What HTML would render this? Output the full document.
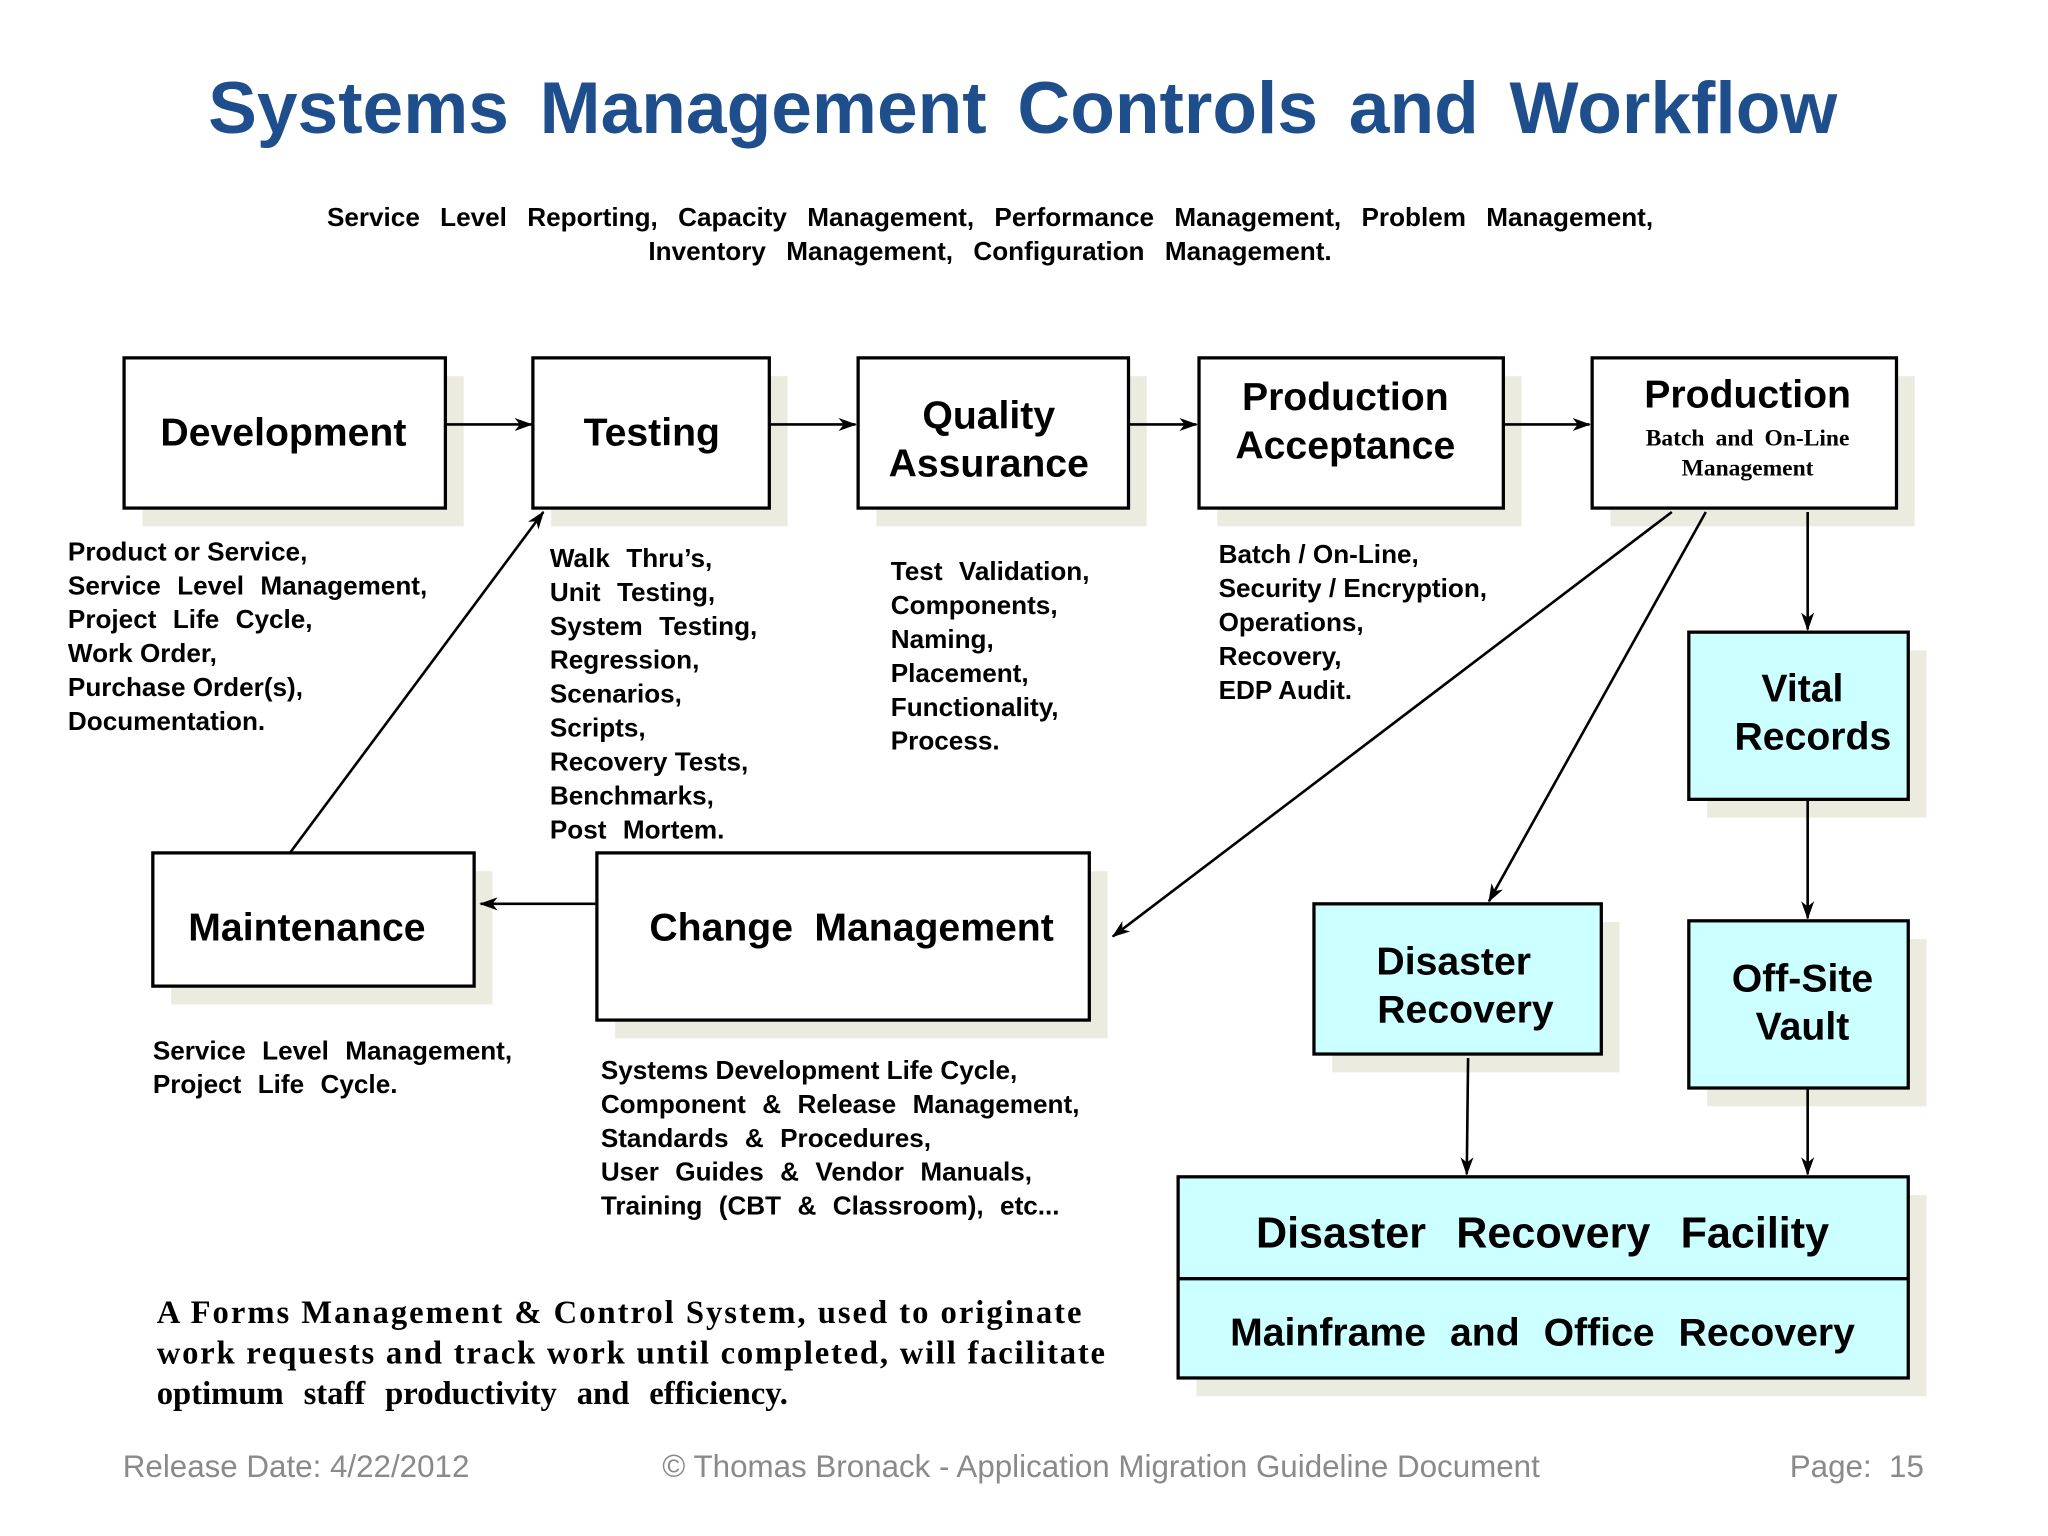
<!DOCTYPE html>
<html><head><meta charset="utf-8"><style>
html,body{margin:0;padding:0;background:#fff;}
svg{display:block;}
.b{font-family:"Liberation Sans",sans-serif;font-weight:bold;fill:#000;}
.s{font-family:"Liberation Serif",serif;font-weight:bold;fill:#000;}
</style></head><body>
<svg width="2048" height="1536" viewBox="0 0 1568 1176" xmlns="http://www.w3.org/2000/svg">
<defs><marker id="a" markerWidth="14" markerHeight="10" refX="13" refY="5" orient="auto" markerUnits="userSpaceOnUse"><path d="M0,0 L14,5 L0,10 L4,5 Z" fill="#000"/></marker></defs>
<rect width="1568" height="1176" fill="#fff"/>
<text x="783" y="102" text-anchor="middle" font-family="Liberation Sans,sans-serif" font-weight="bold" font-size="56" fill="#1f4e8c" word-spacing="8">Systems Management Controls and Workflow</text>
<text class="b" x="758" y="173" text-anchor="middle" font-size="20" word-spacing="10">Service Level Reporting, Capacity Management, Performance Management, Problem Management,</text>
<text class="b" x="758" y="199" text-anchor="middle" font-size="20" word-spacing="10">Inventory Management, Configuration Management.</text>
<g fill="#ecebdf">
<rect x="109" y="288" width="246" height="115"/><rect x="422" y="288" width="181" height="115"/><rect x="671" y="288" width="207" height="115"/><rect x="932" y="288" width="233" height="115"/><rect x="1233" y="288" width="233" height="115"/><rect x="1307" y="498" width="168" height="128"/><rect x="131" y="667" width="246" height="102"/><rect x="471" y="667" width="377" height="128"/><rect x="1020" y="706" width="220" height="115"/><rect x="1307" y="719" width="168" height="128"/><rect x="916" y="915" width="559" height="154"/>
</g>
<g stroke="#000" stroke-width="2.5">
<rect x="95" y="274" width="246" height="115" fill="#fff"/><rect x="408" y="274" width="181" height="115" fill="#fff"/><rect x="657" y="274" width="207" height="115" fill="#fff"/><rect x="918" y="274" width="233" height="115" fill="#fff"/><rect x="1219" y="274" width="233" height="115" fill="#fff"/>
<rect x="1293" y="484" width="168" height="128" fill="#ccffff"/><rect x="117" y="653" width="246" height="102" fill="#fff"/><rect x="457" y="653" width="377" height="128" fill="#fff"/><rect x="1006" y="692" width="220" height="115" fill="#ccffff"/><rect x="1293" y="705" width="168" height="128" fill="#ccffff"/><rect x="902" y="901" width="559" height="154" fill="#ccffff"/><line x1="902" y1="979" x2="1461" y2="979"/>
</g>
<g stroke="#000" stroke-width="2" marker-end="url(#a)">
<line x1="341" y1="325" x2="407" y2="325"/><line x1="589" y1="325" x2="655" y2="325"/><line x1="864" y1="325" x2="916" y2="325"/><line x1="1151" y1="325" x2="1217" y2="325"/>
<line x1="1384" y1="392" x2="1384" y2="482"/><line x1="1384" y1="612" x2="1384" y2="703"/><line x1="1280" y1="392" x2="852" y2="717"/><line x1="1306" y1="392" x2="1140" y2="690"/><line x1="222" y1="653" x2="416" y2="392"/><line x1="457" y1="692" x2="368" y2="692"/><line x1="1124" y1="810" x2="1123" y2="899"/><line x1="1384" y1="833" x2="1384" y2="899"/>
</g>
<g class="b" font-size="30" text-anchor="middle">
<text x="217" y="341">Development</text><text x="499" y="341">Testing</text><text x="757" y="328">Quality</text><text x="757" y="365">Assurance</text><text x="1030" y="314">Production</text><text x="1030" y="351">Acceptance</text><text x="1338" y="312">Production</text>
<text x="1380" y="537">Vital</text><text x="1388" y="574">Records</text><text x="235" y="720">Maintenance</text><text x="652" y="720" word-spacing="8">Change Management</text><text x="1113" y="746">Disaster</text><text x="1122" y="783">Recovery</text><text x="1380" y="759">Off-Site</text><text x="1380" y="796">Vault</text>
<text x="1181" y="955" font-size="33" word-spacing="14">Disaster Recovery Facility</text><text x="1181" y="1030" word-spacing="10">Mainframe and Office Recovery</text>
</g>
<text class="s" x="1338" y="341" text-anchor="middle" font-size="18" word-spacing="4">Batch and On-Line</text><text class="s" x="1338" y="364" text-anchor="middle" font-size="18">Management</text>
<g class="b" font-size="20" word-spacing="7">
<text x="52" y="429" word-spacing="0">Product or Service,</text><text x="52" y="455">Service Level Management,</text><text x="52" y="481">Project Life Cycle,</text><text x="52" y="507" word-spacing="0">Work Order,</text><text x="52" y="533" word-spacing="0">Purchase Order(s),</text><text x="52" y="559">Documentation.</text>
<text x="421" y="434">Walk Thru’s,</text><text x="421" y="460">Unit Testing,</text><text x="421" y="486">System Testing,</text><text x="421" y="512">Regression,</text><text x="421" y="538">Scenarios,</text><text x="421" y="564">Scripts,</text><text x="421" y="590" word-spacing="0">Recovery Tests,</text><text x="421" y="616">Benchmarks,</text><text x="421" y="642">Post Mortem.</text>
<text x="682" y="444">Test Validation,</text><text x="682" y="470">Components,</text><text x="682" y="496">Naming,</text><text x="682" y="522">Placement,</text><text x="682" y="548">Functionality,</text><text x="682" y="574">Process.</text>
<g word-spacing="0"><text x="933" y="431">Batch / On-Line,</text><text x="933" y="457">Security / Encryption,</text><text x="933" y="483">Operations,</text><text x="933" y="509">Recovery,</text><text x="933" y="535">EDP Audit.</text></g>
<text x="117" y="811">Service Level Management,</text><text x="117" y="837">Project Life Cycle.</text>
<text x="460" y="826" word-spacing="0">Systems Development Life Cycle,</text><text x="460" y="852">Component &amp; Release Management,</text><text x="460" y="878">Standards &amp; Procedures,</text><text x="460" y="904">User Guides &amp; Vendor Manuals,</text><text x="460" y="930">Training (CBT &amp; Classroom), etc...</text>
</g>
<g class="s" font-size="25">
<text x="120" y="1013" textLength="708" lengthAdjust="spacing">A Forms Management &amp; Control System, used to originate</text>
<text x="120" y="1044" textLength="726" lengthAdjust="spacing">work requests and track work until completed, will facilitate</text>
<text x="120" y="1075" word-spacing="9">optimum staff productivity and efficiency.</text>
</g>
<g font-family="Liberation Sans,sans-serif" font-size="24" fill="#8a8a8a">
<text x="94" y="1131">Release Date: 4/22/2012</text><text x="843" y="1131" text-anchor="middle">© Thomas Bronack - Application Migration Guideline Document</text><text x="1473" y="1131" text-anchor="end" xml:space="preserve">Page:  15</text>
</g>
</svg>
</body></html>
